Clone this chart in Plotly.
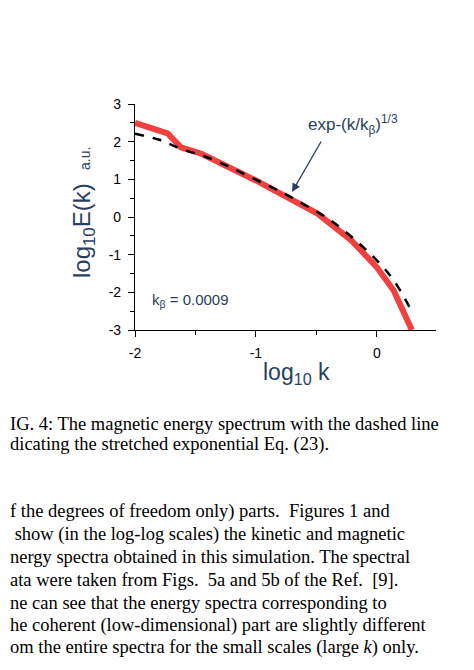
import plotly.graph_objects as go

red_x = [-2.0, -1.73, -1.62, -1.45, -1.0, -0.68, -0.49, -0.21, 0.0, 0.14, 0.29]
red_y = [2.5, 2.22, 1.85, 1.68, 0.97, 0.44, 0.09, -0.62, -1.33, -1.95, -3.0]
fit_x = [-2.0, -1.8, -1.62, -1.4, -1.2, -1.0, -0.8, -0.6, -0.4, -0.2, 0.0, 0.14, 0.27]
fit_y = [2.21, 2.05, 1.81, 1.58, 1.3, 0.99, 0.68, 0.33, -0.05, -0.55, -1.15, -1.68, -2.39]
x_ticks = [-2, -1, 0]
x_labels = ["-2", "-1", "0"]
y_ticks = [-3, -2, -1, 0, 1, 2, 3]
y_labels = ["-3", "-2", "-1", "0", "1", "2", "3"]

caption = ["IG. 4: The magnetic energy spectrum with the dashed line",
           "dicating the stretched exponential Eq. (23)."]
body = ["f the degrees of freedom only) parts.  Figures 1 and",
        " show (in the log-log scales) the kinetic and magnetic",
        "nergy spectra obtained in this simulation. The spectral",
        "ata were taken from Figs.  5a and 5b of the Ref.  [9].",
        "ne can see that the energy spectra corresponding to",
        "he coherent (low-dimensional) part are slightly different",
        "om the entire spectra for the small scales (large <i>k</i>) only."]

L, T, W, H = 127, 96, 301, 226
def px(x): return (x - L) / W
def py(y): return (T + H - y) / H

fig = go.Figure()
fig.add_trace(go.Scatter(x=red_x, y=red_y, mode="lines",
                         line=dict(color="#f04040", width=6), showlegend=False))
fig.add_trace(go.Scatter(x=fit_x, y=fit_y, mode="lines", line_shape="spline",
                         line=dict(color="black", width=2.5, dash="dash"), showlegend=False))

ax = dict(showgrid=False, zeroline=False, showline=True, linecolor="black", linewidth=1.2,
          ticks="outside", ticklen=6, tickcolor="black", ticklabelstandoff=4,
          tickfont=dict(family="Liberation Sans, Arial", size=14, color="black"),
          minor=dict(dtick=0.5, ticks="outside", ticklen=4, tickcolor="black"))
fig.update_xaxes(range=[-2, 0.49], tickvals=x_ticks, ticktext=x_labels, **ax)
fig.update_yaxes(range=[-3, 3], tickvals=y_ticks, ticktext=y_labels, **ax)

anns = []
anns.append(dict(x=px(288), y=py(382), xref="paper", yref="paper", showarrow=False,
                 text="log<sub>10</sub> k", font=dict(family="Liberation Sans, Arial", size=23)))
anns.append(dict(x=px(75), y=py(205), xref="paper", yref="paper", showarrow=False, textangle=-90,
                 xanchor="center", yanchor="middle",
                 text="log<sub>10</sub>E(k)  <span style='font-size:14px'>a.u.</span>",
                 font=dict(family="Liberation Sans, Arial", size=24)))
anns.append(dict(x=px(392), y=py(102), xref="paper", yref="paper", showarrow=False,
                 text="exp-(k/k<sub>β</sub>)<sup>1/3</sup>",
                 font=dict(family="Liberation Sans, Arial", size=17)))
anns.append(dict(x=px(284), y=py(184), xref="paper", yref="paper", ax=30, ay=-52,
                 showarrow=True, arrowhead=2, arrowsize=1.3, arrowwidth=1.3, text=""))
anns.append(dict(x=px(142), y=py(304), xref="paper", yref="paper", showarrow=False, xanchor="left",
                 text="k<sub>β</sub> = 0.0009", font=dict(family="Liberation Sans, Arial", size=15)))
serif = dict(family="Liberation Serif, DejaVu Serif", size=18.5, color="black")
for i, t in enumerate(caption):
    anns.append(dict(x=px(0), y=py(428 + 21 * i), xref="paper", yref="paper", showarrow=False,
                     xanchor="left", text=t, font=serif))
for i, t in enumerate(body):
    anns.append(dict(x=px(0), y=py(516 + 22.7 * i), xref="paper", yref="paper", showarrow=False,
                     xanchor="left", text=t, font=serif))

fig.update_layout(width=474, height=670, margin=dict(l=L, r=474 - L - W, t=T, b=670 - T - H),
                  plot_bgcolor="white", paper_bgcolor="white", annotations=anns)
fig.write_html("out.html")
